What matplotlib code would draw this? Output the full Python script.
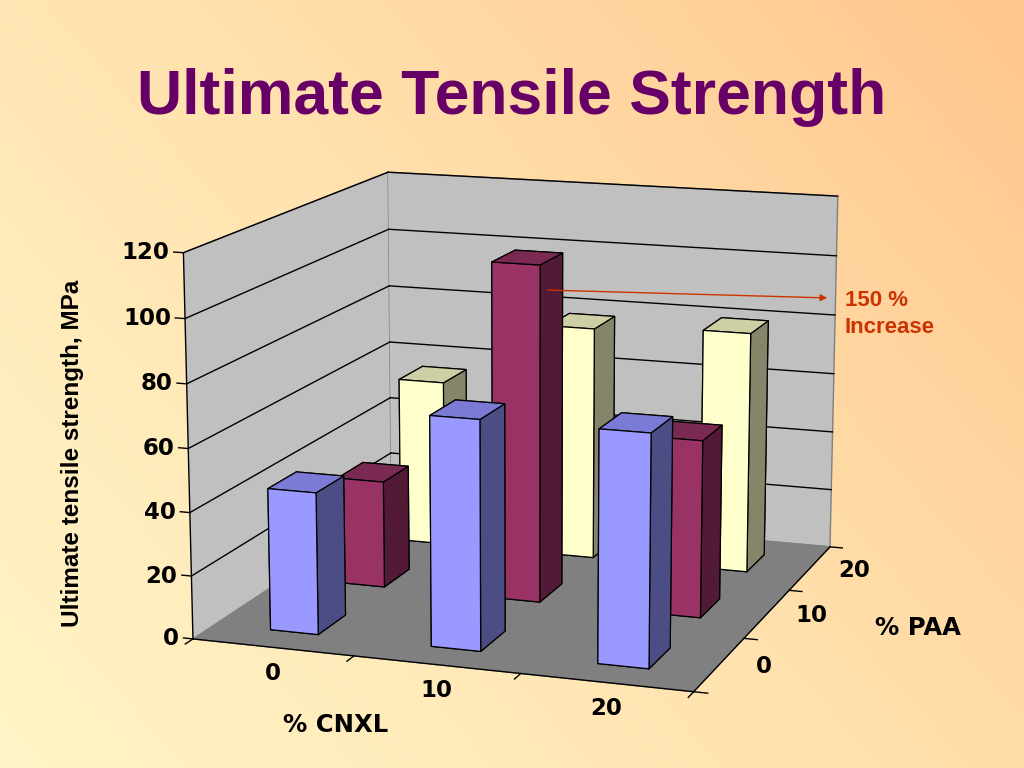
import numpy as np
import matplotlib
matplotlib.use("Agg")
import matplotlib.pyplot as plt
from matplotlib.colors import LinearSegmentedColormap
from mpl_toolkits.mplot3d import proj3d

# ---- data ----
cnxl_labels = ["0", "10", "20"]          # % CNXL (x axis)
paa_labels = ["0", "10", "20"]           # % PAA (depth axis)
uts_paa0 = [45, 72, 72]                  # blue series (PAA 0)
uts_paa10 = [35, 109, 57]                # maroon series (PAA 10)
uts_paa20 = [56, 78, 80]                 # yellow series (PAA 20)
z_ticks = [0, 20, 40, 60, 80, 100, 120]

series = [uts_paa0, uts_paa10, uts_paa20]
# face colours: bottom, top, front(-y), back(+y), left(-x), right(+x)
face_cols = [
    ("#9999FF", "#7B7BD6", "#9999FF", "#9999FF", "#9999FF", "#4D4D85"),
    ("#993366", "#7A2952", "#993366", "#993366", "#993366", "#521A36"),
    ("#FFFFCC", "#CFCFA6", "#FFFFCC", "#FFFFCC", "#FFFFCC", "#85856A"),
]

NARROW = ["Liberation Sans Narrow", "Liberation Sans", "DejaVu Sans"]
WIDE = ["DejaVu Sans"]
ARIAL = ["Liberation Sans", "DejaVu Sans"]
W, H = 1024, 768

fig = plt.figure(figsize=(W / 100, H / 100), dpi=100)

# background gradient
bg = fig.add_axes([0, 0, 1, 1], zorder=-10)
cmap = LinearSegmentedColormap.from_list("bg", ["#FFF5C8", "#FFE2AE", "#FFC68E"])
gx, gy = np.meshgrid(np.linspace(0, 1, 256), np.linspace(0, 1, 256))
grad = 0.6 * gx + 0.4 * gy
bg.imshow(grad, cmap=cmap, origin="lower", extent=[0, 1, 0, 1], aspect="auto")
bg.set_axis_off()

ax = fig.add_axes([0.056, 0.005, 0.9, 0.9], projection="3d", computed_zorder=False)
ax.set_facecolor((0, 0, 0, 0))
ax.set_proj_type("persp", focal_length=0.85)
ax.view_init(elev=13, azim=-71)
ax.set_box_aspect((1.434, 1.498, 1.08), zoom=1.147)

nx = len(cnxl_labels)
ny = len(paa_labels)
x0, x1 = -0.5, nx - 0.5
y0, y1 = -0.5, ny - 0.5
ax.set_xlim(x0, x1)
ax.set_ylim(y0, y1)
ax.set_zlim(z_ticks[0], z_ticks[-1])

# panes
ax.xaxis.set_pane_color("#C0C0C0")
ax.yaxis.set_pane_color("#C0C0C0")
ax.zaxis.set_pane_color("#808080")
for a in (ax.xaxis, ax.yaxis, ax.zaxis):
    a.pane.set_edgecolor("#808080")
    a.line.set_color("black")
    a.line.set_linewidth(1.0)
    a.set_ticks([])
ax.zaxis.line.set_color((0, 0, 0, 0))
ax.grid(False)

# wall gridlines
for zt in z_ticks[1:]:
    ax.plot([x0, x0], [y0, y1], [zt, zt], color="black", lw=1.0, zorder=1)
    ax.plot([x0, x1], [y1, y1], [zt, zt], color="black", lw=1.0, zorder=1)

# value axis line and tick marks
ax.plot([x0, x0], [y0, y0], [z_ticks[0], z_ticks[-1]], color="black", lw=1.0, zorder=2)
for zt in z_ticks:
    ax.plot([x0 - 0.06, x0], [y0, y0], [zt, zt], color="black", lw=1.0, zorder=2)
# category ticks on floor edges (between categories)
for b in np.arange(x0, x1 + 0.01, 1.0):
    ax.plot([b, b], [y0 - 0.1, y0], [0, 0], color="black", lw=1.0, zorder=2)
for b in np.arange(y0, y1 + 0.01, 1.0):
    ax.plot([x1, x1 + 0.08], [b, b], [0, 0], color="black", lw=1.0, zorder=2)

# bars
w, d = 0.3, 0.4
xs, ys, hs, cols = [], [], [], []
for j, s in enumerate(series):
    for i, v in enumerate(s):
        xs.append(i - w / 2)
        ys.append(j - d / 2)
        hs.append(v)
        cols.extend(face_cols[j])
ax.bar3d(xs, ys, np.zeros(len(hs)), w, d, hs, color=cols, shade=False,
         edgecolor="black", linewidth=0.9, zorder=3)

# tick labels placed at projected 3D positions
fig.canvas.draw()


def to_fig(x, y, z, dx=0.0, dy=0.0):
    px, py, _ = proj3d.proj_transform(x, y, z, ax.M)
    X, Y = ax.transData.transform((px, py))
    return (X + dx) / W, (Y + dy) / H


TICK_FS = 16.5
for zt in z_ticks:
    fx, fy = to_fig(x0, y0, zt, dx=-14)
    fig.text(fx, fy, str(zt), ha="right", va="center", fontsize=TICK_FS,
             fontweight="bold", family=WIDE)
for i, lab in enumerate(cnxl_labels):
    fx, fy = to_fig(i, y0, 0, dy=-26)
    fig.text(fx, fy, lab, ha="center", va="center", fontsize=TICK_FS,
             fontweight="bold", family=WIDE)
for j, lab in enumerate(paa_labels):
    fx, fy = to_fig(x1, j, 0, dx=44, dy=-2)
    fig.text(fx, fy, lab, ha="center", va="center", fontsize=TICK_FS,
             fontweight="bold", family=WIDE)

# titles and labels
fig.text(0.5, 0.873, "Ultimate Tensile Strength", ha="center", va="center",
         fontsize=45, fontweight="bold", color="#660066", family=NARROW)
fig.text(0.071, 1 - 453 / H, "Ultimate tensile strength, MPa", rotation=90, ha="center",
         va="center", fontsize=17.5, fontweight="bold", color="black", family=NARROW)
fig.text(336 / W, 1 - 725 / H, "% CNXL", ha="center", va="center", fontsize=17.5,
         fontweight="bold", family=WIDE)
fig.text(918 / W, 1 - 628 / H, "% PAA", ha="center", va="center", fontsize=17.5,
         fontweight="bold", family=WIDE)

# annotation
fig.patches.append(matplotlib.patches.FancyArrowPatch(
    (545 / W, 1 - 290 / H), (830 / W, 1 - 298 / H),
    transform=fig.transFigure, arrowstyle="-|>", mutation_scale=10,
    color="#CC3300", lw=1.0))
fig.text(0.825, 1 - 314 / H, "150 %\nIncrease", ha="left", va="center", fontsize=16,
         fontweight="bold", color="#CC3300", family=ARIAL, linespacing=1.35)

fig.savefig("out.png", dpi=100)
